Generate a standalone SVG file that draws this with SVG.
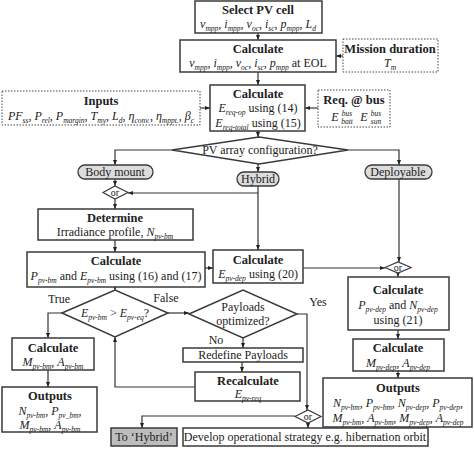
<svg xmlns="http://www.w3.org/2000/svg" width="474" height="451" viewBox="0 0 474 451" font-family="'Liberation Serif', 'DejaVu Serif', serif">
<defs>
<style>
.bx{fill:#fff;stroke:#3a3a3a;stroke-width:1.5}
.dx{fill:#fff;stroke:#444;stroke-width:1;stroke-dasharray:1.5 1.5}
.pl{fill:#dcdcdc;stroke:#3a3a3a;stroke-width:1.3}
.cn{fill:none;stroke:#333;stroke-width:1.2;marker-end:url(#a)}
text{font-size:12px;fill:#222;text-anchor:middle}
.b{font-weight:bold;font-size:12.5px}
.i{font-style:italic}
.s{font-size:7.5px;baseline-shift:-3px;font-style:italic}
.u{font-size:7.5px;font-style:italic}
.o{font-size:10px}
</style>
<marker id="a" viewBox="0 0 10 10" refX="10" refY="5" markerWidth="5" markerHeight="5" markerUnits="userSpaceOnUse" orient="auto"><path d="M0,1 L10,5 L0,9z" fill="#222"/></marker>
</defs>

<g id="connectors">
<path class="cn" d="M258,33 V40"/>
<path class="cn" d="M258,72 V85"/>
<path class="cn" d="M343,56 H336"/>
<path class="cn" d="M200,108 H210"/>
<path class="cn" d="M318,108 H305"/>
<path class="cn" d="M258,131 V137"/>
<path class="cn" d="M172,150 H115 V165"/>
<path class="cn" d="M258,164 V172"/>
<path class="cn" d="M348,150 H399 V165"/>
<path class="cn" d="M115,179 V186"/>
<path class="cn" d="M258,186 V250"/>
<path class="cn" d="M258,193 H128"/>
<path class="cn" d="M115,199 V209"/>
<path class="cn" d="M115,240 V252"/>
<path class="cn" d="M205,268 H213"/>
<path class="cn" d="M303,268 H385"/>
<path class="cn" d="M399,179 V262"/>
<path class="cn" d="M398,273 V277"/>
<path class="cn" d="M115,287 V290"/>
<path class="cn" d="M62,313 H48 V338"/>
<path class="cn" d="M168,313 H189"/>
<path class="cn" d="M243,338 V348"/>
<path class="cn" d="M242,362 V372"/>
<path class="cn" d="M195,387 H115 V337"/>
<path class="cn" d="M297,314 H307 V410"/>
<path class="cn" d="M295,416 H142 V428"/>
<path class="cn" d="M308,423 V428"/>
<path class="cn" d="M48,370 V387"/>
<path class="cn" d="M398,330 V339"/>
<path class="cn" d="M398,371 V378"/>
</g>

<g id="select">
<rect class="bx" x="195" y="1" width="127" height="32"/>
<text class="b" x="258" y="14">Select PV cell</text>
<text x="258" y="28"><tspan class="i">v</tspan><tspan class="s">mpp</tspan>, <tspan class="i">i</tspan><tspan class="s">mpp</tspan>, <tspan class="i">v</tspan><tspan class="s">oc</tspan>, <tspan class="i">i</tspan><tspan class="s">sc</tspan>, <tspan class="i">p</tspan><tspan class="s">mpp</tspan>, <tspan class="i">L</tspan><tspan class="s">d</tspan></text>
</g>

<g id="calc-eol">
<rect class="bx" x="180" y="40" width="156" height="32"/>
<text class="b" x="258" y="53">Calculate</text>
<text x="258" y="67"><tspan class="i">v</tspan><tspan class="s">mpp</tspan>, <tspan class="i">i</tspan><tspan class="s">mpp</tspan>, <tspan class="i">v</tspan><tspan class="s">oc</tspan>, <tspan class="i">i</tspan><tspan class="s">sc</tspan>, <tspan class="i">p</tspan><tspan class="s">mpp</tspan> at EOL</text>
</g>

<g id="mission">
<rect class="dx" x="343" y="39" width="95" height="33"/>
<text class="b" x="390" y="53">Mission duration</text>
<text x="390" y="67"><tspan class="i">T</tspan><tspan class="s">m</tspan></text>
</g>

<g id="inputs">
<rect class="dx" x="2" y="91" width="198" height="34"/>
<text class="b" x="101" y="105">Inputs</text>
<text x="101" y="120"><tspan class="i">PF</tspan><tspan class="s">ss</tspan>, <tspan class="i">P</tspan><tspan class="s">rel</tspan>, <tspan class="i">P</tspan><tspan class="s">margin</tspan>, <tspan class="i">T</tspan><tspan class="s">my</tspan>, <tspan class="i">L</tspan><tspan class="s">d</tspan>, <tspan class="i">η</tspan><tspan class="s">conv.</tspan>, <tspan class="i">η</tspan><tspan class="s">mppt.</tspan>, <tspan class="i">β</tspan><tspan class="s">c</tspan></text>
</g>

<g id="calc-req">
<rect class="bx" x="210" y="85" width="95" height="46"/>
<text class="b" x="258" y="98">Calculate</text>
<text x="258" y="112"><tspan class="i">E</tspan><tspan class="s">req-op</tspan> using (14)</text>
<text x="258" y="127"><tspan class="i">E</tspan><tspan class="s">req-total</tspan> using (15)</text>
</g>

<g id="req-bus">
<rect class="dx" x="318" y="90" width="72" height="37"/>
<text class="b" x="354" y="104">Req. @ bus</text>
<text class="i" x="335" y="121">E</text>
<text class="u" x="347" y="116">bus</text>
<text class="u" x="347" y="124">batt</text>
<text class="i" x="364" y="121">E</text>
<text class="u" x="376" y="116">bus</text>
<text class="u" x="376" y="124">sun</text>
</g>

<g id="pv-config">
<path class="bx" d="M172,150 L259,137 L348,150 L259,164 Z"/>
<text x="260" y="154">PV array configuration?</text>
</g>

<g id="body-mount">
<rect class="pl" x="78" y="165" width="75" height="14" rx="7"/>
<text x="115" y="176">Body mount</text>
</g>

<g id="hybrid">
<rect class="pl" x="237" y="172" width="42" height="14" rx="7"/>
<text x="258" y="183">Hybrid</text>
</g>

<g id="deployable">
<rect class="pl" x="365" y="165" width="67" height="14" rx="7"/>
<text x="398" y="176">Deployable</text>
</g>

<g id="or-bm">
<path class="bx" d="M103,192.5 L115,186 L128,192.5 L115,199 Z" style="stroke-width:1.2"/>
<text class="o" x="115" y="196">or</text>
</g>

<g id="determine">
<rect class="bx" x="38" y="209" width="155" height="31"/>
<text class="b" x="115" y="222">Determine</text>
<text x="115" y="236">Irradiance profile, <tspan class="i">N</tspan><tspan class="s">pv-bm</tspan></text>
</g>

<g id="calc-bm">
<rect class="bx" x="27" y="252" width="178" height="35"/>
<text class="b" x="116" y="265">Calculate</text>
<text x="116" y="280"><tspan class="i">P</tspan><tspan class="s">pv-bm</tspan> and <tspan class="i">E</tspan><tspan class="s">pv-bm</tspan> using (16) and (17)</text>
</g>

<g id="calc-dep-e">
<rect class="bx" x="213" y="250" width="90" height="33"/>
<text class="b" x="258" y="264">Calculate</text>
<text x="258" y="278"><tspan class="i">E</tspan><tspan class="s">pv-dep</tspan> using (20)</text>
</g>

<g id="or-dep">
<path class="bx" d="M385,267.5 L398,262 L411,267.5 L398,273 Z" style="stroke-width:1.2"/>
<text class="o" x="398" y="271">or</text>
</g>

<g id="cmp">
<path class="bx" d="M62,313 L115,290 L168,313 L115,337 Z"/>
<text x="115" y="317"><tspan class="i">E</tspan><tspan class="s">pv-bm</tspan> &gt; <tspan class="i">E</tspan><tspan class="s">pv-eq</tspan>?</text>
<text x="59" y="303">True</text>
<text x="166" y="302">False</text>
</g>

<g id="payloads">
<path class="bx" d="M189,314 L243,290 L297,314 L243,338 Z"/>
<text x="243" y="311">Payloads</text>
<text x="243" y="325">optimized?</text>
<text x="318" y="306">Yes</text>
<text x="216" y="344">No</text>
</g>

<g id="calc-m-bm">
<rect class="bx" x="12" y="338" width="82" height="32"/>
<text class="b" x="53" y="352">Calculate</text>
<text x="53" y="366"><tspan class="i">M</tspan><tspan class="s">pv-bm</tspan>,  <tspan class="i">A</tspan><tspan class="s">pv-bm</tspan></text>
</g>

<g id="outputs-bm">
<rect class="bx" x="2" y="387" width="95" height="45"/>
<text class="b" x="50" y="400">Outputs</text>
<text x="50" y="415"><tspan class="i">N</tspan><tspan class="s">pv-bm</tspan>, <tspan class="i">P</tspan><tspan class="s">pv_bm</tspan>,</text>
<text x="50" y="429"><tspan class="i">M</tspan><tspan class="s">pv-bm</tspan>,  <tspan class="i">A</tspan><tspan class="s">pv-bm</tspan></text>
</g>

<g id="redefine">
<rect class="bx" x="183" y="348" width="120" height="14"/>
<text x="243" y="359">Redefine Payloads</text>
</g>

<g id="recalculate">
<rect class="bx" x="195" y="372" width="105" height="29"/>
<text class="b" x="248" y="385">Recalculate</text>
<text x="248" y="398"><tspan class="i">E</tspan><tspan class="s">pv-req</tspan></text>
</g>

<g id="calc-dep-p">
<rect class="bx" x="348" y="277" width="101" height="53"/>
<text class="b" x="398" y="294">Calculate</text>
<text x="398" y="309"><tspan class="i">P</tspan><tspan class="s">pv-dep</tspan> and <tspan class="i">N</tspan><tspan class="s">pv-dep</tspan></text>
<text x="398" y="324">using (21)</text>
</g>

<g id="calc-m-dep">
<rect class="bx" x="353" y="339" width="91" height="32"/>
<text class="b" x="398" y="352">Calculate</text>
<text x="398" y="367"><tspan class="i">M</tspan><tspan class="s">pv-dep</tspan>,  <tspan class="i">A</tspan><tspan class="s">pv-dep</tspan></text>
</g>

<g id="outputs-all">
<rect class="bx" x="323" y="378" width="149" height="49"/>
<text class="b" x="398" y="392">Outputs</text>
<text x="398" y="407"><tspan class="i">N</tspan><tspan class="s">pv-bm</tspan>, <tspan class="i">P</tspan><tspan class="s">pv-bm</tspan>,  <tspan class="i">N</tspan><tspan class="s">pv-dep</tspan>, <tspan class="i">P</tspan><tspan class="s">pv-dep</tspan>,</text>
<text x="398" y="422"><tspan class="i">M</tspan><tspan class="s">pv-bm</tspan>,  <tspan class="i">A</tspan><tspan class="s">pv-bm</tspan>, <tspan class="i">M</tspan><tspan class="s">pv-dep</tspan>,  <tspan class="i">A</tspan><tspan class="s">pv-dep</tspan></text>
</g>

<g id="or-final">
<path class="bx" d="M295,416.5 L308,410 L321,416.5 L308,423 Z" style="stroke-width:1.2"/>
<text class="o" x="308" y="420">or</text>
</g>

<g id="to-hybrid">
<rect class="bx" x="111" y="428" width="66" height="18" style="fill:#bdbdbd"/>
<text x="144" y="441">To ‘Hybrid’</text>
</g>

<g id="develop">
<rect class="bx" x="183" y="428" width="245" height="18"/>
<text x="305" y="441">Develop operational strategy e.g. hibernation orbit</text>
</g>
</svg>
